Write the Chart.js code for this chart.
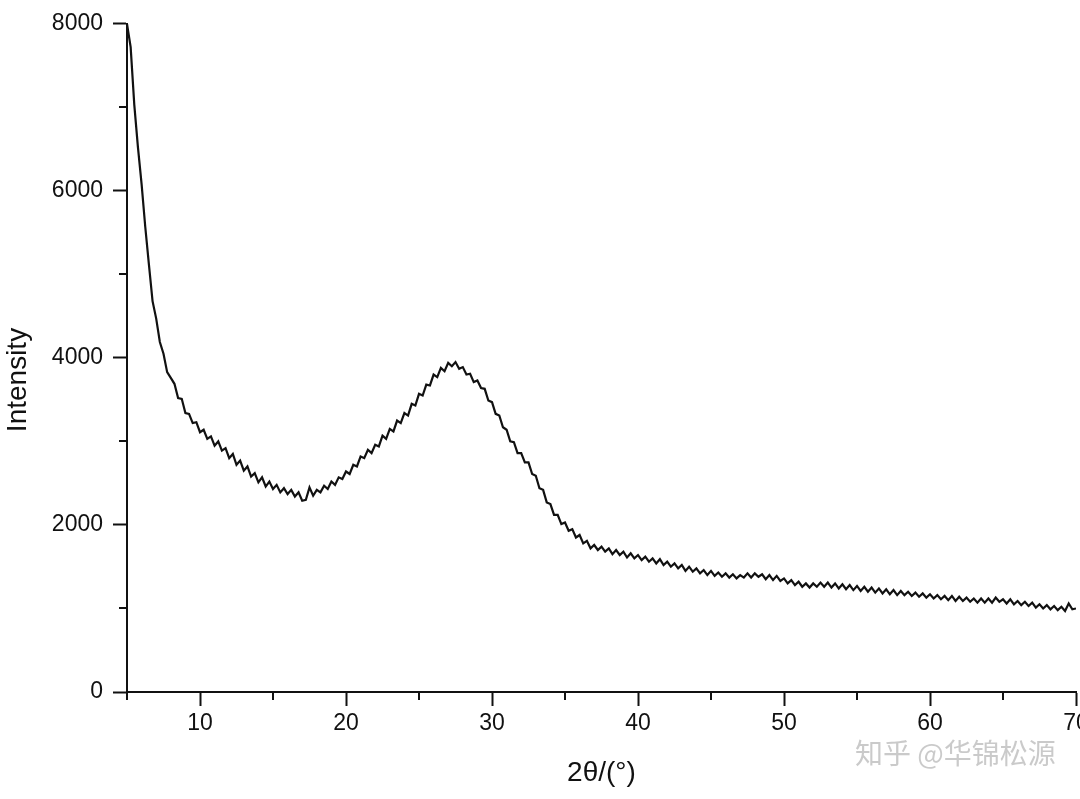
<!DOCTYPE html>
<html>
<head>
<meta charset="utf-8">
<script src="https://cdn.jsdelivr.net/npm/chart.js@4/dist/chart.umd.min.js"></script>
<style>
  html, body { margin: 0; padding: 0; background: #fff; overflow: hidden; }
  #xrd { display: block; }
</style>
</head>
<body>
<canvas id="xrd" width="1100" height="799"></canvas>
<script>
// 2theta angles (deg), one row = 2 degrees
const angles = [
  5.0, 5.25, 5.5, 5.75, 6.0, 6.25, 6.5, 6.75,
  7.0, 7.25, 7.5, 7.75, 8.0, 8.25, 8.5, 8.75,
  9.0, 9.25, 9.5, 9.75, 10.0, 10.25, 10.5, 10.75,
  11.0, 11.25, 11.5, 11.75, 12.0, 12.25, 12.5, 12.75,
  13.0, 13.25, 13.5, 13.75, 14.0, 14.25, 14.5, 14.75,
  15.0, 15.25, 15.5, 15.75, 16.0, 16.25, 16.5, 16.75,
  17.0, 17.25, 17.5, 17.75, 18.0, 18.25, 18.5, 18.75,
  19.0, 19.25, 19.5, 19.75, 20.0, 20.25, 20.5, 20.75,
  21.0, 21.25, 21.5, 21.75, 22.0, 22.25, 22.5, 22.75,
  23.0, 23.25, 23.5, 23.75, 24.0, 24.25, 24.5, 24.75,
  25.0, 25.25, 25.5, 25.75, 26.0, 26.25, 26.5, 26.75,
  27.0, 27.25, 27.5, 27.75, 28.0, 28.25, 28.5, 28.75,
  29.0, 29.25, 29.5, 29.75, 30.0, 30.25, 30.5, 30.75,
  31.0, 31.25, 31.5, 31.75, 32.0, 32.25, 32.5, 32.75,
  33.0, 33.25, 33.5, 33.75, 34.0, 34.25, 34.5, 34.75,
  35.0, 35.25, 35.5, 35.75, 36.0, 36.25, 36.5, 36.75,
  37.0, 37.25, 37.5, 37.75, 38.0, 38.25, 38.5, 38.75,
  39.0, 39.25, 39.5, 39.75, 40.0, 40.25, 40.5, 40.75,
  41.0, 41.25, 41.5, 41.75, 42.0, 42.25, 42.5, 42.75,
  43.0, 43.25, 43.5, 43.75, 44.0, 44.25, 44.5, 44.75,
  45.0, 45.25, 45.5, 45.75, 46.0, 46.25, 46.5, 46.75,
  47.0, 47.25, 47.5, 47.75, 48.0, 48.25, 48.5, 48.75,
  49.0, 49.25, 49.5, 49.75, 50.0, 50.25, 50.5, 50.75,
  51.0, 51.25, 51.5, 51.75, 52.0, 52.25, 52.5, 52.75,
  53.0, 53.25, 53.5, 53.75, 54.0, 54.25, 54.5, 54.75,
  55.0, 55.25, 55.5, 55.75, 56.0, 56.25, 56.5, 56.75,
  57.0, 57.25, 57.5, 57.75, 58.0, 58.25, 58.5, 58.75,
  59.0, 59.25, 59.5, 59.75, 60.0, 60.25, 60.5, 60.75,
  61.0, 61.25, 61.5, 61.75, 62.0, 62.25, 62.5, 62.75,
  63.0, 63.25, 63.5, 63.75, 64.0, 64.25, 64.5, 64.75,
  65.0, 65.25, 65.5, 65.75, 66.0, 66.25, 66.5, 66.75,
  67.0, 67.25, 67.5, 67.75, 68.0, 68.25, 68.5, 68.75,
  69.0, 69.25, 69.5, 69.75, 70.0
];
// intensity, same rows as angles
const intensity = [
  8000, 7720, 7030, 6520, 6080, 5570, 5120, 4680,
  4470, 4190, 4050, 3830, 3760, 3690, 3520, 3510,
  3340, 3330, 3220, 3230, 3110, 3140, 3030, 3060,
  2950, 3000, 2890, 2920, 2800, 2850, 2720, 2770,
  2650, 2700, 2580, 2620, 2510, 2570, 2460, 2520,
  2430, 2480, 2390, 2440, 2370, 2420, 2340, 2390,
  2290, 2300, 2450, 2350, 2420, 2390, 2470, 2430,
  2520, 2480, 2570, 2550, 2640, 2610, 2720, 2700,
  2820, 2800, 2900, 2860, 2960, 2940, 3070, 3030,
  3150, 3120, 3250, 3220, 3340, 3310, 3450, 3430,
  3570, 3550, 3680, 3670, 3800, 3770, 3880, 3840,
  3940, 3900, 3950, 3870, 3890, 3800, 3810, 3710,
  3730, 3640, 3630, 3490, 3470, 3330, 3310, 3170,
  3140, 3000, 2990, 2860, 2860, 2750, 2750, 2610,
  2590, 2440, 2420, 2270, 2250, 2120, 2120, 2010,
  2030, 1930, 1950, 1850, 1880, 1780, 1810, 1720,
  1760, 1700, 1740, 1680, 1720, 1650, 1700, 1640,
  1680, 1610, 1660, 1600, 1640, 1580, 1620, 1560,
  1600, 1540, 1590, 1520, 1560, 1500, 1540, 1480,
  1520, 1450, 1500, 1440, 1480, 1420, 1460, 1400,
  1450, 1390, 1430, 1380, 1420, 1370, 1410, 1360,
  1400, 1370, 1420, 1370, 1420, 1380, 1410, 1350,
  1400, 1340, 1390, 1330, 1360, 1300, 1340, 1280,
  1320, 1260, 1300, 1250, 1300, 1260, 1310, 1260,
  1310, 1250, 1300, 1240, 1290, 1230, 1280, 1220,
  1270, 1210, 1260, 1200, 1250, 1190, 1240, 1180,
  1230, 1170, 1220, 1160, 1210, 1160, 1200, 1150,
  1190, 1140, 1180, 1130, 1170, 1120, 1160, 1110,
  1150, 1100, 1150, 1090, 1140, 1090, 1130, 1080,
  1120, 1070, 1120, 1070, 1120, 1070, 1130, 1080,
  1110, 1060, 1110, 1050, 1090, 1040, 1080, 1030,
  1070, 1010, 1050, 1000, 1040, 990, 1030, 980,
  1020, 970, 1060, 990, 1000
];

// axis ticks
const xMajor = [10, 20, 30, 40, 50, 60, 70];
const xMinor = [5, 15, 25, 35, 45, 55, 65];
const yMajor = [0, 2000, 4000, 6000, 8000];
const yMinor = [1000, 3000, 5000, 7000];

const ink = "#111";
const fontFamily = "'Liberation Sans', Arial, sans-serif";
const tickFont = { family: fontFamily, size: 23 };

//Minor ticks, rotated y title and the watermark
const extras = {
    id: "extras",
    afterDraw(chart) {
        const { ctx, scales: { x, y }, chartArea } = chart;
        ctx.save();
        ctx.strokeStyle = ink;
        ctx.lineWidth = 2;
        ctx.beginPath();
        yMinor.forEach(v => {
            const py = Math.round(y.getPixelForValue(v));
            ctx.moveTo(chartArea.left - 8, py);
            ctx.lineTo(chartArea.left, py);
        });
        xMinor.forEach(v => {
            const px = Math.round(x.getPixelForValue(v));
            ctx.moveTo(px, chartArea.bottom);
            ctx.lineTo(px, chartArea.bottom + 8);
        });
        ctx.stroke();

        ctx.fillStyle = ink;
        ctx.font = "28px " + fontFamily;
        ctx.textAlign = "center";
        ctx.textBaseline = "middle";
        ctx.translate(18, 380);
        ctx.rotate(-Math.PI / 2);
        ctx.fillText("Intensity", 0, 0);
        ctx.restore();

        ctx.save();
        ctx.fillStyle = "rgba(150,150,150,0.5)";
        ctx.font = "28px 'Noto Sans CJK SC', sans-serif";
        ctx.textAlign = "left";
        ctx.textBaseline = "middle";
        ctx.fillText("知乎 @华锦松源", 855, 753);
        ctx.restore();
    }
};

new Chart(document.getElementById("xrd").getContext("2d"), {
    type: "line",
    data: {
        datasets: [{
            data: angles.map((a, i) => ({ x: a, y: intensity[i] })),
            borderColor: ink,
            borderWidth: 2.2,
            pointRadius: 0,
            tension: 0,
            fill: false
        }]
    },
    options: {
        responsive: false,
        animation: false,
        layout: { padding: { top: 20, right: 24, left: 0, bottom: 0 } },
        plugins: { legend: { display: false }, tooltip: { enabled: false } },
        scales: {
            x: {
                type: "linear",
                min: 5,
                max: 70,
                afterFit: s => { s.height = 107; },
                border: { color: ink, width: 2 },
                grid: {
                    drawOnChartArea: false,
                    tickLength: 14,
                    tickWidth: 2,
                    tickColor: c => xMajor.includes(c.tick.value) ? ink : "rgba(0,0,0,0)"
                },
                ticks: {
                    stepSize: 5,
                    autoSkip: false,
                    maxRotation: 0,
                    padding: 4,
                    color: ink,
                    font: tickFont,
                    callback: v => xMajor.includes(v) ? v : ""
                },
                title: {
                    display: true,
                    text: "2θ/(°)",
                    color: ink,
                    font: { family: fontFamily, size: 28 },
                    padding: { top: 0, bottom: 9 }
                }
            },
            y: {
                min: 0,
                max: 8000,
                afterFit: s => { s.width = 127; },
                border: { color: ink, width: 2 },
                grid: {
                    drawOnChartArea: false,
                    tickLength: 14,
                    tickWidth: 2,
                    tickColor: c => yMajor.includes(c.tick.value) ? ink : "rgba(0,0,0,0)"
                },
                ticks: {
                    stepSize: 1000,
                    autoSkip: false,
                    padding: 10,
                    color: ink,
                    font: tickFont,
                    callback: v => yMajor.includes(v) ? v : ""
                }
            }
        }
    },
    plugins: [extras]
});
</script>
</body>
</html>
